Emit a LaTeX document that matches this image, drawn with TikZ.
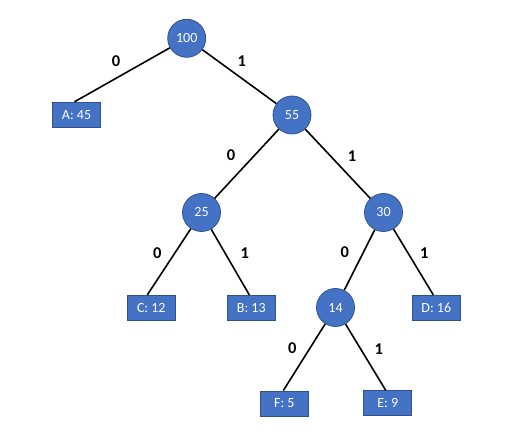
\documentclass[tikz,border=0pt]{standalone}
\usepackage{fontspec}
\setmainfont{Carlito}
\begin{document}
\begin{tikzpicture}[x=1pt,y=-1pt,
  inner/.style={circle,draw=nodeedge,fill=nodeblue,line width=0.8pt,minimum size=38pt,inner sep=0pt,text=white,font=\fontsize{14}{16}\selectfont},
  leaf/.style={rectangle,draw=nodeedge,fill=nodeblue,line width=0.8pt,minimum width=48pt,minimum height=25pt,inner sep=0pt,text=white,font=\fontsize{14}{16}\selectfont},
  edge/.style={draw=black,line width=1.6pt},
  bit/.style={font=\bfseries\fontsize{16.5}{18}\selectfont,text=black}]
\definecolor{nodeblue}{HTML}{4472C4}
\definecolor{nodeedge}{HTML}{2F528F}
\useasboundingbox (0,0) rectangle (514,443);
\node[inner] (n100) at (186.7,38.3) {100};
\node[inner] (n55) at (292,115) {55};
\node[inner] (n25) at (201.5,212.5) {25};
\node[inner] (n30) at (383.5,212.5) {30};
\node[inner] (n14) at (335.5,307.5) {14};
\node[leaf] (A) at (76.5,114.7) {A: 45};
\node[leaf] (C) at (151.3,307.8) {C: 12};
\node[leaf] (B) at (251.3,307.8) {B: 13};
\node[leaf] (D) at (436.3,307.8) {D: 16};
\node[leaf] (F) at (284.3,403.5) {F: 5};
\node[leaf] (E) at (387.7,403.2) {E: 9};
\draw[edge] (n100) -- ([xshift=-2pt]A.north);
\draw[edge] (n100) -- (n55);
\draw[edge] (n55) -- (n25);
\draw[edge] (n55) -- (n30);
\draw[edge] (n25) -- ([xshift=-4pt]C.north);
\draw[edge] (n25) -- ([xshift=-2pt]B.north);
\draw[edge] (n30) -- (n14);
\draw[edge] (n30) -- ([xshift=-3pt]D.north);
\draw[edge] (n14) -- ([xshift=-1pt]F.north);
\draw[edge] (n14) -- ([xshift=-2pt]E.north);
\node[bit] (l1) at (116,61.5) {0};
\node[bit] (l2) at (241.7,61.5) {1};
\node[bit] (l3) at (231,155) {0};
\node[bit] (l4) at (352,156) {1};
\node[bit] (l5) at (157.3,253.3) {0};
\node[bit] (l6) at (244.7,253.3) {1};
\node[bit] (l7) at (344.7,252.3) {0};
\node[bit] (l8) at (424.3,253.3) {1};
\node[bit] (l9) at (292.3,348.3) {0};
\node[bit] (l10) at (378.7,349.3) {1};
\end{tikzpicture}
\end{document}
